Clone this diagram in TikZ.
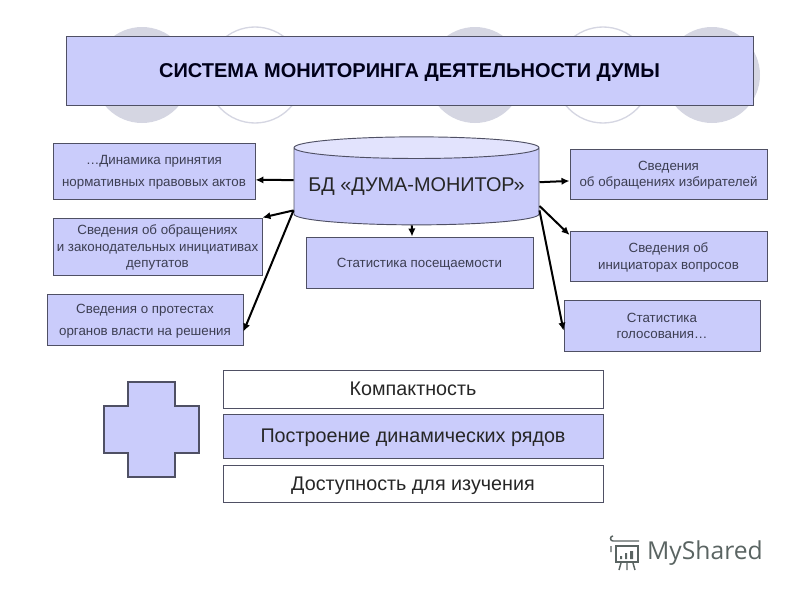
\documentclass[tikz,border=0pt]{standalone}
\usepackage{fontspec}
\setmainfont{Liberation Sans}
\newfontfamily\logofont{Open Sans}
\usetikzlibrary{shapes.geometric,arrows.meta}

\definecolor{boxfill}{HTML}{CACCFB}
\definecolor{boxline}{HTML}{4F5064}
\definecolor{boxtext}{HTML}{3C3E52}
\definecolor{capfill}{HTML}{E2E3FD}
\definecolor{ringfill}{HTML}{D5D6E2}
\definecolor{logoline}{HTML}{5A6462}

\tikzset{
  infobox/.style={draw=boxline,line width=0.7pt,fill=boxfill,text=boxtext,inner sep=0pt,
    align=center,text depth=0pt,font=\fontsize{10}{13}\selectfont,anchor=center},
  listbox/.style={draw=boxline,line width=0.7pt,minimum width=285pt,inner sep=0pt,text depth=0pt,
    text=black!85,font=\fontsize{14.8}{16}\selectfont},
  ringfull/.style={fill=ringfill},
  ringopen/.style={draw=ringfill,line width=1pt,fill=white},
  linkarrow/.style={line width=1.5pt,black,-{Latex[length=6pt,width=5.5pt]}}
}

\begin{document}
\begin{tikzpicture}[x=0.75pt,y=-0.75pt]
\useasboundingbox (0,0) rectangle (800,600);

% круги за заголовком
\foreach \cx in {142,475,712}
  \fill[ringfull] (\cx,75) circle (36pt);
\foreach \cx in {255,603}
  \draw[ringopen] (\cx,75) circle (36pt);

% заголовок
\node[infobox,minimum width=515.25pt,minimum height=51.75pt,text=black!90!blue,
  font=\bfseries\fontsize{15}{17}\selectfont] (title) at (409.5,70.5)
  {СИСТЕМА МОНИТОРИНГА ДЕЯТЕЛЬНОСТИ ДУМЫ};

% база данных
\node[cylinder,shape border rotate=90,draw=boxline,line width=0.7pt,
  cylinder uses custom fill,cylinder body fill=boxfill,cylinder end fill=capfill,
  aspect=0.1,minimum width=183.75pt,minimum height=66pt,inner sep=0pt,
  text=black!85,font=\fontsize{14.9}{16}\selectfont] (db) at (416.5,186.5)
  {БД «ДУМА-МОНИТОР»};

% левые блоки
\node[infobox,minimum width=151.5pt,minimum height=42pt,
  font=\fontsize{10}{16.5}\selectfont] (dyn) at (154,171)
  {…Динамика принятия\\нормативных правовых актов};
\node[infobox,minimum width=156.75pt,minimum height=42.75pt,
  font=\fontsize{10}{12.4}\selectfont] (deps) at (157.5,246.5)
  {Сведения об обращениях\\и законодательных инициативах\\депутатов};
\node[infobox,minimum width=147pt,minimum height=38.25pt,
  font=\fontsize{10}{16.5}\selectfont] (prot) at (145,319.5)
  {Сведения о протестах\\органов власти на решения};

% центр
\node[infobox,minimum width=170.25pt,minimum height=38.25pt] (attend) at (419.5,262.5)
  {Статистика посещаемости};

% правые блоки
\node[infobox,minimum width=147.75pt,minimum height=37.5pt,
  font=\fontsize{10}{12}\selectfont] (voters) at (668.5,174)
  {Сведения\\об обращениях избирателей};
\node[infobox,minimum width=147.75pt,minimum height=37.5pt,
  font=\fontsize{10}{12.75}\selectfont] (init) at (668.5,256)
  {Сведения об\\инициаторах вопросов};
\node[infobox,minimum width=147pt,minimum height=38.25pt,
  font=\fontsize{10}{12}\selectfont] (votes) at (662,325.5)
  {Статистика\\голосования…};

% стрелки
\draw[linkarrow] (db.177.4) -- (dyn.-5.6);
\draw[linkarrow] (db.191.7) -- (deps.north east);
\draw[linkarrow] (db.191.9) -- (prot.-7);
\draw[linkarrow] (db.263.2) -- (attend.106);
\draw[linkarrow] (db.2.6) -- (voters.184);
\draw[linkarrow] (db.-9.1) -- (init.168);
\draw[linkarrow] (db.-11.9) -- (votes.183);

% плюс
\fill[boxfill,draw=boxline,line width=0.8pt] (128,382) -- (175,382) -- (175,406) -- (199,406)
  -- (199,453) -- (175,453) -- (175,477) -- (128,477) -- (128,453) -- (104,453)
  -- (104,406) -- (128,406) -- cycle;

% список
\node[listbox,minimum height=28.5pt] (compact) at (413,389) {Компактность};
\node[listbox,minimum height=33pt,fill=boxfill] (series) at (413,436) {Построение динамических рядов};
\node[listbox,minimum height=27.75pt] (access) at (413,483.5) {Доступность для изучения};

% логотип
\node[text=logoline,font=\logofont\fontsize{18.5}{20}\selectfont,inner sep=0pt] (logo) at (705,553) {MyShared};
\begin{scope}[draw=logoline,line width=1.1pt]
  \draw (613,541) -- (639,541) (613,541) arc (90:270:2.5) (611,546) -- (611,552);
  \draw (616,546) rectangle (638,562);
  \draw (621,563) -- (619,570) (627,563) -- (627,570) (633,563) -- (635,570);
  \fill[logoline] (620,556) rectangle (622,559) (625,553) rectangle (627,559)
    (630,551) rectangle (633,559);
\end{scope}

\end{tikzpicture}
\end{document}
